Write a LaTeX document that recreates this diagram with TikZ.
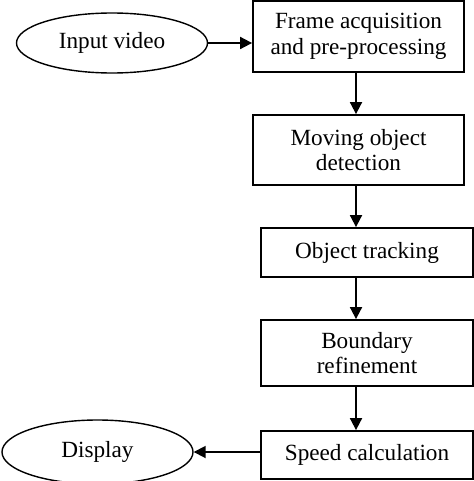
\documentclass[tikz,border=0pt]{standalone}
\usepackage{fontspec}
\setmainfont{Liberation Serif}
\usetikzlibrary{shapes.geometric,arrows.meta}

\tikzset{
  stepbox/.style={draw, line width=0.9pt, rectangle, align=center, inner sep=0pt},
  endpoint/.style={draw, line width=0.7pt, ellipse, inner sep=0pt},
  flow/.style={line width=0.9pt, -{Triangle[width=6pt,length=6pt]}}
}

\begin{document}
\begin{tikzpicture}[x=0.5pt, y=-0.5pt, font=\fontsize{11.6}{12.8}\selectfont]

\useasboundingbox (0,0) rectangle (474,481);

% Ein- und Ausgabe
\node[endpoint, minimum width=95.5pt, minimum height=30pt] (input) at (112,43) {Input video};
\node[endpoint, minimum width=95.5pt, minimum height=32pt] (display) at (97.5,452) {Display};

% Schritte
\node[stepbox, minimum width=105.5pt, minimum height=35.5pt] (frame) at (358.5,36.5) {Frame acquisition\\and pre-processing};
\node[stepbox, minimum width=105.5pt, minimum height=35pt] (moving) at (358.5,150) {Moving object\\detection};
\node[stepbox, minimum width=106pt, minimum height=24.5pt] (tracking) at (367,252.5) {Object tracking};
\node[stepbox, minimum width=106pt, minimum height=33pt] (boundary) at (367,353) {Boundary\\refinement};
\node[stepbox, minimum width=106pt, minimum height=24pt] (speed) at (367,455) {Speed calculation};

% Pfeile
\draw[flow] (input) -- (frame.west |- input);
\draw[flow] (frame.south -| 356,0) -- (moving.north -| 356,0);
\draw[flow] (moving.south -| 356,0) -- (tracking.north -| 356,0);
\draw[flow] (tracking.south -| 356,0) -- (boundary.north -| 356,0);
\draw[flow] (boundary.south -| 356,0) -- (speed.north -| 356,0);
\draw[flow] (speed.west |- 0,452) -- (display.east);

\end{tikzpicture}
\end{document}
